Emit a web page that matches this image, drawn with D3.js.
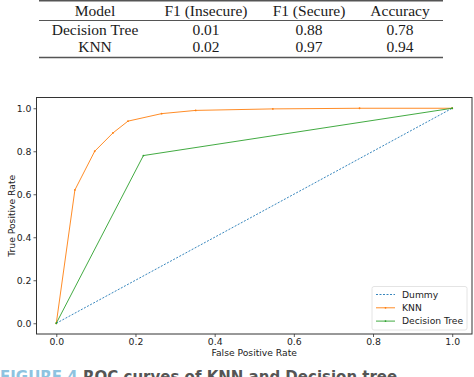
<!DOCTYPE html>
<html>
<head>
<meta charset="utf-8">
<script src="https://cdn.jsdelivr.net/npm/d3@7"></script>
<style>
  body { margin: 0; background: #fff; overflow: hidden; }
  svg { display: block; }
</style>
</head>
<body>
<div id="chart"></div>
<script>
// table data
var tableHeader = ["Model", "F1 (Insecure)", "F1 (Secure)", "Accuracy"];
var tableRows = [
  ["Decision Tree", "0.01", "0.88", "0.78"],
  ["KNN", "0.02", "0.97", "0.94"]
];

// ROC curves
var dummyFpr = [0, 1];
var dummyTpr = [0, 1];
var knnFpr = [0, 0.047, 0.097, 0.143, 0.181, 0.266, 0.352, 0.547, 0.766, 1];
var knnTpr = [0, 0.62, 0.80, 0.885, 0.94, 0.975, 0.99, 0.997, 1, 1];
var treeFpr = [0, 0.22, 1];
var treeTpr = [0, 0.78, 1];
var ticks = [0, 0.2, 0.4, 0.6, 0.8, 1.0];

var W = 474, H = 377;
var svg = d3.select("#chart").append("svg")
    .attr("width", W)
    .attr("height", H);

// ---- table ----
var colX = [95, 206, 309, 400];
var tbl = svg.append("g")
    .attr("font-family", "'Liberation Serif', 'Times New Roman', serif")
    .attr("font-size", 15.5)
    .attr("fill", "#1a1a1a")
    .attr("text-anchor", "middle");

tbl.append("line").attr("x1", 39).attr("x2", 443).attr("y1", 0.8).attr("y2", 0.8)
    .attr("stroke", "#555").attr("stroke-width", 1.6);
tbl.append("line").attr("x1", 39).attr("x2", 443).attr("y1", 20.5).attr("y2", 20.5)
    .attr("stroke", "#555").attr("stroke-width", 1);
tbl.append("line").attr("x1", 39).attr("x2", 443).attr("y1", 57.5).attr("y2", 57.5)
    .attr("stroke", "#555").attr("stroke-width", 1.3);

tbl.selectAll("text.h")
    .data(tableHeader)
    .enter().append("text")
      .attr("class", "h")
      .attr("x", function(d, i) { return colX[i]; })
      .attr("y", 16.3)
      .text(function(d) { return d; });

tableRows.forEach(function(row, r) {
  tbl.selectAll("text.r" + r)
      .data(row)
      .enter().append("text")
        .attr("class", "r" + r)
        .attr("x", function(d, i) { return colX[i]; })
        .attr("y", 34.5 + r * 17.4)
        .text(function(d) { return d; });
});

// ---- ROC plot ----
var box = {left: 36.5, top: 97.5, right: 472, bottom: 334};

var x = d3.scaleLinear()
    .domain([-0.05, 1.05])
    .range([box.left, box.right]);
var y = d3.scaleLinear()
    .domain([-0.05, 1.05])
    .range([box.bottom, box.top]);

var plot = svg.append("g")
    .attr("font-family", "'DejaVu Sans', sans-serif");

function zip(a, b) { return a.map(function(v, i) { return [v, b[i]]; }); }
var line = d3.line()
    .x(function(d) { return x(d[0]); })
    .y(function(d) { return y(d[1]); });

var series = [
  {name: "Dummy", pts: zip(dummyFpr, dummyTpr), color: "#1f77b4", dash: "2,1.5", marker: false},
  {name: "KNN", pts: zip(knnFpr, knnTpr), color: "#ff7f0e", dash: null, marker: true},
  {name: "Decision Tree", pts: zip(treeFpr, treeTpr), color: "#2ca02c", dash: null, marker: true}
];

series.forEach(function(s) {
  plot.append("path")
      .datum(s.pts)
      .attr("d", line)
      .attr("fill", "none")
      .attr("stroke", s.color)
      .attr("stroke-width", 0.9)
      .attr("stroke-dasharray", s.dash);
  if (s.marker) {
    plot.selectAll(null)
        .data(s.pts)
        .enter().append("circle")
          .attr("cx", function(d) { return x(d[0]); })
          .attr("cy", function(d) { return y(d[1]); })
          .attr("r", 0.9)
          .attr("fill", s.color);
  }
});

// axes
var xAxis = plot.append("g")
    .attr("transform", "translate(0," + box.bottom + ")")
    .call(d3.axisBottom(x).tickValues(ticks).tickFormat(d3.format(".1f")).tickSize(3).tickPadding(1));
var yAxis = plot.append("g")
    .attr("transform", "translate(" + box.left + ",0)")
    .call(d3.axisLeft(y).tickValues(ticks).tickFormat(d3.format(".1f")).tickSize(3).tickPadding(2));

[xAxis, yAxis].forEach(function(a) {
  a.select(".domain").remove();
  a.selectAll("text").attr("font-size", 9.3).attr("fill", "#222").attr("font-family", "'DejaVu Sans', sans-serif");
  a.selectAll("line").attr("stroke", "#333").attr("stroke-width", 0.8);
});

plot.append("rect")
    .attr("x", box.left)
    .attr("y", box.top)
    .attr("width", box.right - box.left)
    .attr("height", box.bottom - box.top)
    .attr("fill", "none")
    .attr("stroke", "#333")
    .attr("stroke-width", 1);

plot.append("text")
    .attr("x", (box.left + box.right) / 2)
    .attr("y", 355.5)
    .attr("text-anchor", "middle")
    .attr("font-size", 9.2)
    .attr("fill", "#222")
    .text("False Positive Rate");

plot.append("text")
    .attr("transform", "translate(14.5," + ((box.top + box.bottom) / 2) + ") rotate(-90)")
    .attr("text-anchor", "middle")
    .attr("font-size", 9.2)
    .attr("fill", "#222")
    .text("True Positive Rate");

// legend
var lg = plot.append("g").attr("transform", "translate(372,286.5)");
lg.append("rect")
    .attr("width", 95).attr("height", 43.5).attr("rx", 2)
    .attr("fill", "#fff").attr("stroke", "#ddd").attr("stroke-width", 0.8);
var items = lg.selectAll("g")
    .data(series)
    .enter().append("g")
      .attr("transform", function(d, i) { return "translate(0," + (8 + i * 13.3) + ")"; });
items.append("line")
    .attr("x1", 4).attr("x2", 23)
    .attr("stroke", function(d) { return d.color; })
    .attr("stroke-width", 0.9)
    .attr("stroke-dasharray", function(d) { return d.dash; });
items.filter(function(d) { return d.marker; }).append("circle")
    .attr("cx", 13.5).attr("r", 0.9)
    .attr("fill", function(d) { return d.color; });
items.append("text")
    .attr("x", 30)
    .attr("dy", "0.35em")
    .attr("font-size", 9.2)
    .attr("fill", "#222")
    .text(function(d) { return d.name; });

// caption, cut off by the bottom of the picture (as in the source figure)
var cap = svg.append("text")
    .attr("x", 0)
    .attr("y", 382)
    .attr("font-family", "'DejaVu Sans', sans-serif")
    .attr("font-size", 15)
    .attr("font-weight", "bold");
cap.append("tspan").attr("fill", "#8ec3e0").text("FIGURE 4  ");
cap.append("tspan").attr("fill", "#555").text("ROC curves of KNN and Decision tree");
</script>
</body>
</html>
